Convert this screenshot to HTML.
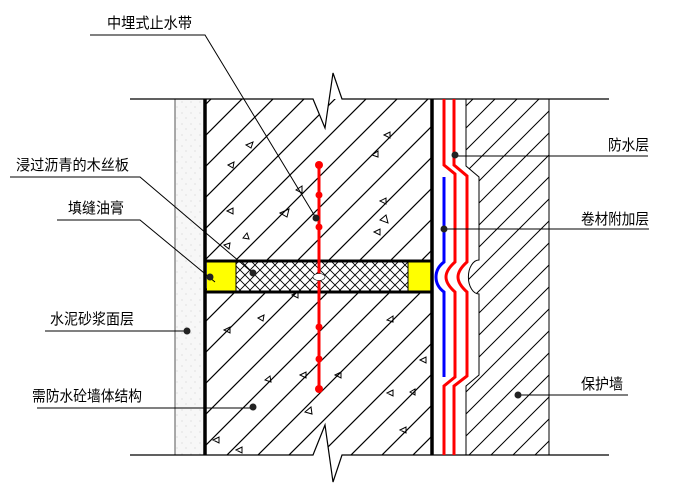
<!DOCTYPE html>
<html><head><meta charset="utf-8"><style>
html,body{margin:0;padding:0;background:#fff}
svg{display:block}
text{font-family:"Liberation Sans","Noto Sans CJK SC","WenQuanYi Zen Hei",sans-serif;font-size:15px;fill:#000}
</style></head><body>
<svg width="687" height="497" viewBox="0 0 687 497" xmlns="http://www.w3.org/2000/svg">
<defs>
<pattern id="h1" patternUnits="userSpaceOnUse" width="31" height="31">
<path d="M-2,33 L33,-2 M-2,2 L2,-2 M29,33 L33,29" stroke="#000" stroke-width="1.2"/>
</pattern>
<pattern id="h2" patternUnits="userSpaceOnUse" width="22" height="22">
<path d="M-2,24 L24,-2 M-2,2 L2,-2 M20,24 L24,20" stroke="#000" stroke-width="1"/>
</pattern>
<pattern id="cx" patternUnits="userSpaceOnUse" width="10" height="10">
<path d="M0,10 L10,0 M0,0 L10,10" stroke="#000" stroke-width="0.9"/>
</pattern>
<pattern id="st" patternUnits="userSpaceOnUse" width="9" height="11">
<rect width="9" height="11" fill="#f7f7f7"/>
<circle cx="2" cy="3" r="0.5" fill="#bbb"/><circle cx="6" cy="8" r="0.5" fill="#bbb"/>
</pattern>
</defs>

<!-- mortar layer -->
<rect x="175" y="99" width="30" height="356" fill="url(#st)"/>
<line x1="175" y1="99" x2="175" y2="455" stroke="#555" stroke-width="1"/>

<!-- concrete -->
<rect x="205" y="99" width="227" height="356" fill="url(#h1)"/>
<!-- break marks white-out -->
<polygon points="300,99 313,99 325,128 333,73 342,99 360,99 360,60 300,60" fill="#fff"/>
<polygon points="300,455 313,455 325,425 333,482 342,455 360,455 360,490 300,490" fill="#fff"/>
<polyline points="130,99 313,99 325,128 333,73 342,99 609,99" fill="none" stroke="#000" stroke-width="1.2"/>
<polyline points="130,455 313,455 325,425 333,482 342,455 609,455" fill="none" stroke="#000" stroke-width="1.2"/>

<!-- triangles -->
<g fill="none" stroke="#000" stroke-width="1">
<path d="M246,145 l7,-3 l-2,6z M228,165 l6,-3 l-1,6z M296,190 l6,-4 l0,7z M280,213 l9,-4 l-2,8z M227,211 l6,-3 l0,6z M224,245 l6,-2 l-1,6z M243,238 l4,-5 l2,6z M384,135 l6,-3 l0,6z M380,201 l6,-3 l0,6z M380,220 l6,-5 l2,8z M372,155 l6,-4 l0,6z M374,232 l6,-3 l0,6z M290,270 l4,-5 l2,6z M224,330 l6,-3 l0,6z M258,318 l6,-3 l-1,6z M265,380 l5,-4 l1,6z M292,295 l6,-3 l0,6z M300,375 l6,-3 l0,6z M335,375 l6,-3 l0,6z M305,412 l6,-5 l1,7z M213,440 l6,-3 l0,6z M236,450 l6,-3 l0,6z M387,320 l6,-4 l0,6z M387,393 l6,-3 l0,6z M410,392 l5,-3 l0,6z M400,430 l6,-3 l0,6z M420,360 l6,-3 l0,6z"/>
</g>

<!-- joint -->
<rect x="207" y="262" width="224" height="30" fill="#fff"/>
<rect x="236" y="262" width="172" height="30" fill="url(#cx)"/>
<rect x="207" y="262" width="29" height="30" fill="#ffff00"/>
<rect x="408" y="262" width="23" height="30" fill="#ffff00"/>
<line x1="205" y1="261" x2="432" y2="261" stroke="#000" stroke-width="3"/>
<line x1="205" y1="292" x2="432" y2="292" stroke="#000" stroke-width="3"/>
<line x1="236" y1="262" x2="236" y2="292" stroke="#000" stroke-width="1"/>
<line x1="408" y1="262" x2="408" y2="292" stroke="#000" stroke-width="1"/>

<!-- walls thick -->
<line x1="205" y1="99" x2="205" y2="455" stroke="#000" stroke-width="3.5"/>
<line x1="432" y1="99" x2="432" y2="455" stroke="#000" stroke-width="3.5"/>

<!-- waterstop -->
<line x1="319" y1="165" x2="319" y2="390" stroke="#f00" stroke-width="3"/>
<g fill="#f00">
<circle cx="319" cy="165" r="4"/><circle cx="319" cy="195" r="3.5"/><circle cx="319" cy="227" r="3.5"/>
<circle cx="319" cy="327" r="3.5"/><circle cx="319" cy="359" r="3.5"/><circle cx="319" cy="389" r="4"/>
</g>
<ellipse cx="319" cy="277" rx="6" ry="3.5" fill="#fff" stroke="#000" stroke-width="0.6"/>

<!-- protective wall -->
<path d="M466,99 L549,99 L549,455 L466,455 L466,386 L479,375 L479,294 A10,16 0 0 1 479,260 L479,177 L466,166 Z" fill="url(#h2)" stroke="#000" stroke-width="1"/>

<!-- membranes -->
<g fill="none" stroke-width="3">
<path d="M444,99 L444,165 L455,174 L455,262 Q446,270 446,277 Q446,284 455,292 L455,377 L444,386 L444,455" stroke="#f00"/>
<path d="M454,99 L454,165 L467,176 L467,262 Q458,270 458,277 Q458,284 467,292 L467,376 L454,386 L454,455" stroke="#f00"/>
<path d="M444,177 L444,262 Q436,268 436,277 Q436,286 444,292 L444,377" stroke="#00f"/>
</g>

<!-- leaders -->
<g stroke="#000" stroke-width="1" fill="none">
<polyline points="90,35 205,35 316,218"/>
<polyline points="10,177 140,177 253,273"/>
<polyline points="57,220 140,220 215,282"/>
<line x1="45" y1="331" x2="187" y2="331"/>
<line x1="37" y1="408" x2="253" y2="408"/>
<line x1="455" y1="156" x2="648" y2="156"/>
<line x1="444" y1="229" x2="649" y2="229"/>
<line x1="518" y1="395" x2="628" y2="395"/>
</g>
<g fill="#222">
<circle cx="316" cy="218" r="3.5"/><circle cx="253" cy="273" r="3.5"/><circle cx="210" cy="277" r="3.5"/>
<circle cx="187" cy="331" r="3.5"/><circle cx="253" cy="407" r="3.5"/>
<circle cx="455" cy="155" r="3.5"/><circle cx="444" cy="229" r="3.5"/><circle cx="518" cy="395" r="3.5"/>
</g>

<!-- labels -->
<text x="107" y="28" textLength="85" lengthAdjust="spacingAndGlyphs">中埋式止水带</text>
<text x="16" y="170" textLength="113" lengthAdjust="spacingAndGlyphs">浸过沥青的木丝板</text>
<text x="68" y="213" textLength="56" lengthAdjust="spacingAndGlyphs">填缝油膏</text>
<text x="50" y="324" textLength="84" lengthAdjust="spacingAndGlyphs">水泥砂浆面层</text>
<text x="32" y="401" textLength="110" lengthAdjust="spacingAndGlyphs">需防水砼墙体结构</text>
<text x="608" y="150" textLength="41" lengthAdjust="spacingAndGlyphs">防水层</text>
<text x="581" y="224" textLength="68" lengthAdjust="spacingAndGlyphs">卷材附加层</text>
<text x="581" y="389" textLength="42" lengthAdjust="spacingAndGlyphs">保护墙</text>
</svg>
</body></html>
